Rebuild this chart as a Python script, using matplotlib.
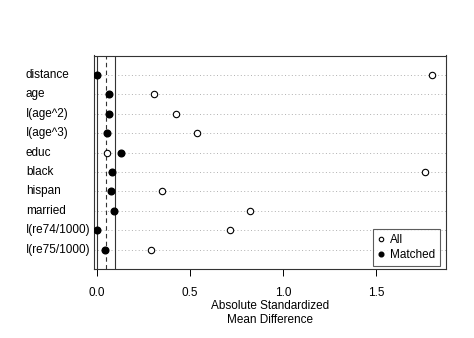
import matplotlib
matplotlib.use("Agg")
from matplotlib import pyplot as plt
from matplotlib.transforms import blended_transform_factory

plt.rcParams['font.family'] = ['Liberation Sans', 'DejaVu Sans']

covariates = ['distance', 'age', 'I(age^2)', 'I(age^3)', 'educ', 'black',
              'hispan', 'married', 'I(re74/1000)', 'I(re75/1000)']
all_diff = [1.797, 0.307, 0.428, 0.541, 0.057, 1.760, 0.350, 0.825, 0.718, 0.289]
matched_diff = [0.002, 0.064, 0.066, 0.057, 0.132, 0.082, 0.077, 0.091, 0.000, 0.044]
xticks = [0.0, 0.5, 1.0, 1.5]

fig = plt.figure(figsize=(4.74, 3.38), dpi=100)
ax = fig.add_axes([94 / 474, 1 - 269 / 338, 351.5 / 474, 213.5 / 338])

n = len(covariates)
ypos = [n - i for i in range(n)]

# dotted row guides
for y in ypos:
    ax.axhline(y, color='#b0b0b0', ls=(0, (1, 2.5)), lw=0.7, zorder=1)

# reference lines
ax.axvline(0.0, color='#333333', lw=0.8, zorder=2)
ax.axvline(0.1, color='#333333', lw=0.8, zorder=2)
ax.axvline(0.05, color='#333333', lw=0.8, ls=(0, (4, 3)), zorder=2)

ax.plot(all_diff, ypos, 'o', mfc='white', mec='black', mew=0.8, ms=4.6,
        ls='none', zorder=3, label='All')
ax.plot(matched_diff, ypos, 'o', mfc='black', mec='black', ms=4.8,
        ls='none', zorder=4, label='Matched')

ax.set_xlim(-0.014, 1.871)
ax.set_ylim(0.02, 10.98)
ax.set_yticks([])
ax.set_xticks(xticks)
ax.set_xticklabels(['{:.1f}'.format(t) for t in xticks], fontsize=8.5)
ax.tick_params(axis='x', direction='out', length=5, width=0.7, pad=8)
for s in ax.spines.values():
    s.set_linewidth(0.8)
    s.set_color('#333333')

# left-aligned covariate names
trans = blended_transform_factory(fig.transFigure, ax.transData)
for name, y in zip(covariates, ypos):
    ax.text(26 / 474, y, name, transform=trans, ha='left', va='center',
            fontsize=8.5)

ax.set_xlabel('Absolute Standardized\nMean Difference', fontsize=8.5,
              labelpad=0.5, linespacing=1.2)

leg = ax.legend(loc='lower right', bbox_to_anchor=(0.985, 0.015),
                fontsize=8.5, frameon=True, fancybox=False, markerscale=0.7,
                handlelength=0.6, handletextpad=0.5, borderpad=0.4,
                labelspacing=0.25, borderaxespad=0)
leg.get_frame().set_edgecolor('#333333')
leg.get_frame().set_linewidth(0.8)

plt.savefig('out.png', dpi=100)
